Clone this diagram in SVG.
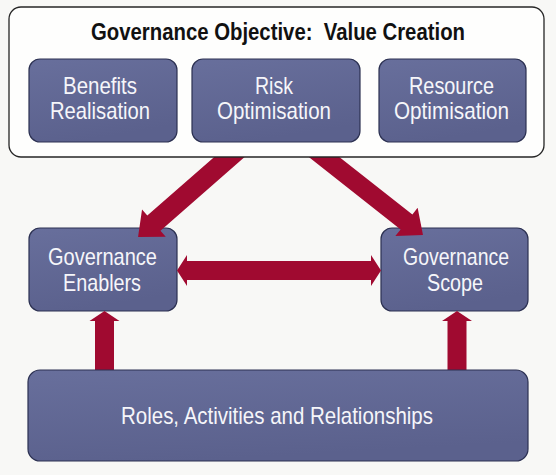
<svg xmlns="http://www.w3.org/2000/svg" width="556" height="475" viewBox="0 0 556 475">
  <defs>
    <linearGradient id="boxGrad" x1="0" y1="0" x2="0.3" y2="1">
      <stop offset="0" stop-color="#686f9c"/>
      <stop offset="1" stop-color="#5b618d"/>
    </linearGradient>
    <style>
      .box { fill: url(#boxGrad); stroke: #2c3152; stroke-width: 1.2; }
      .outer { fill: #fefefd; stroke: #262626; stroke-width: 1.3; }
      .lbl { font-family: "Liberation Sans Narrow", "Liberation Sans", Arial, sans-serif; font-size: 24px; fill: #f6f6fa; }
      .title { font-family: "Liberation Sans Narrow", "Liberation Sans", Arial, sans-serif; font-size: 23px; font-weight: bold; fill: #111111; white-space: pre; }
      .arrow { fill: #a00a30; }
    </style>
  </defs>
  <rect x="0" y="0" width="556" height="475" fill="#f8f8f6"/>

  <g id="governance-enablers">
    <rect class="box" x="29" y="228" width="148" height="83" rx="11"/>
    <text class="lbl" x="48" y="265" textLength="109" lengthAdjust="spacingAndGlyphs">Governance</text>
    <text class="lbl" x="63" y="291" textLength="78" lengthAdjust="spacingAndGlyphs">Enablers</text>
  </g>

  <g id="governance-scope">
    <rect class="box" x="381" y="228" width="147" height="83" rx="11"/>
    <text class="lbl" x="403" y="265" textLength="106" lengthAdjust="spacingAndGlyphs">Governance</text>
    <text class="lbl" x="427" y="291" textLength="56" lengthAdjust="spacingAndGlyphs">Scope</text>
  </g>

  <g id="connectors">
    <polygon class="arrow" transform="translate(244.6,143.8) rotate(138.84)" points="0,-10 120.5,-10 120.5,-18 141.5,0 120.5,18 120.5,10 0,10"/>
    <polygon class="arrow" transform="translate(308.3,144.6) rotate(38.23)" points="0,-9.5 125,-9.5 125,-18 146,0 125,18 125,9.5 0,9.5"/>
    <polygon class="arrow" points="177,270.5 187,255 187,261 371,261 371,255 381,270.5 371,286 371,280 187,280 187,286"/>
    <polygon class="arrow" points="104.5,311 119.5,321 114,321 114,372 95,372 95,321 89.5,321"/>
    <polygon class="arrow" points="457,311 472,321 466.5,321 466.5,372 447.5,372 447.5,321 442,321"/>
  </g>

  <g id="governance-objective">
    <rect class="outer" x="9" y="7" width="535" height="150" rx="12"/>
    <text class="title" x="91" y="40" textLength="374" lengthAdjust="spacingAndGlyphs">Governance Objective:&#160; Value Creation</text>
  </g>

  <g id="benefits-realisation">
    <rect class="box" x="29" y="59" width="148" height="83" rx="11"/>
    <text class="lbl" x="63" y="94" textLength="74" lengthAdjust="spacingAndGlyphs">Benefits</text>
    <text class="lbl" x="50" y="119" textLength="100" lengthAdjust="spacingAndGlyphs">Realisation</text>
  </g>

  <g id="risk-optimisation">
    <rect class="box" x="192" y="59" width="168" height="83" rx="11"/>
    <text class="lbl" x="255" y="94" textLength="38" lengthAdjust="spacingAndGlyphs">Risk</text>
    <text class="lbl" x="217" y="119" textLength="114" lengthAdjust="spacingAndGlyphs">Optimisation</text>
  </g>

  <g id="resource-optimisation">
    <rect class="box" x="379" y="59" width="147" height="83" rx="11"/>
    <text class="lbl" x="409" y="94" textLength="85" lengthAdjust="spacingAndGlyphs">Resource</text>
    <text class="lbl" x="394" y="119" textLength="115" lengthAdjust="spacingAndGlyphs">Optimisation</text>
  </g>

  <g id="roles-activities-relationships">
    <rect class="box" x="28" y="370" width="500" height="91" rx="12"/>
    <text class="lbl" x="121" y="424" textLength="312" lengthAdjust="spacingAndGlyphs">Roles, Activities and Relationships</text>
  </g>
</svg>
